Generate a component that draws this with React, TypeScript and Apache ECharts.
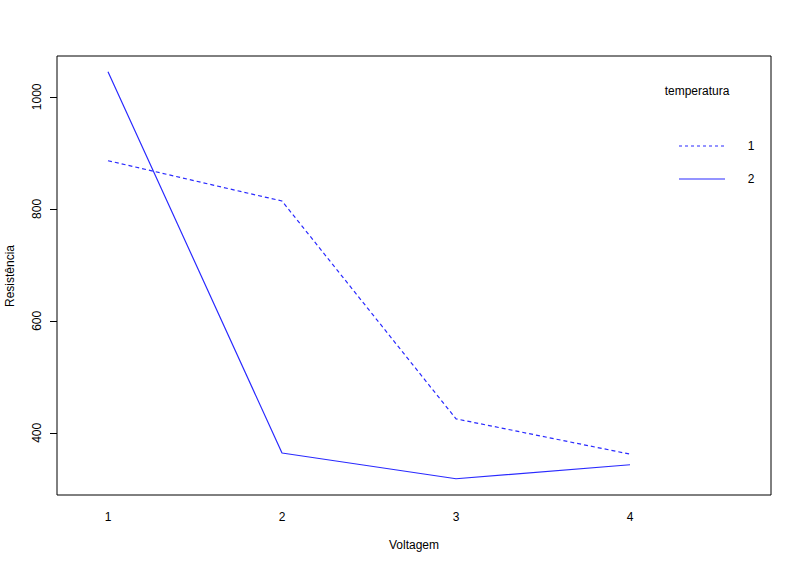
import React, { useEffect, useRef } from "react";
import * as echarts from "echarts";

const voltagem = [1, 2, 3, 4];
const temp1 = [886, 814, 425, 362];
const temp2 = [1045, 364, 318, 343];
const yTicks = [400, 600, 800, 1000];
const legendLabels = ["1", "2"];

export default function App() {
  const ref = useRef<HTMLDivElement>(null);
  useEffect(() => {
    const chart = echarts.init(ref.current!, null, { renderer: "svg" });
    const font = "Liberation Sans, Arial, Helvetica, sans-serif";
    chart.setOption({
      animation: false,
      backgroundColor: "#ffffff",
      textStyle: { fontFamily: font },
      grid: {
        left: 57,
        right: 29,
        top: 56,
        bottom: 71,
        show: true,
        borderColor: "#000",
        borderWidth: 1,
        backgroundColor: "transparent",
      },
      xAxis: {
        type: "value",
        min: 0.707,
        max: 4.81,
        axisLine: { show: false },
        axisTick: { show: false },
        splitLine: { show: false },
        axisLabel: {
          customValues: voltagem,
          formatter: (v: number) => String(v),
          margin: 16,
          color: "#000",
          fontSize: 12,
          fontFamily: font,
        },
      },
      yAxis: {
        type: "value",
        min: 289,
        max: 1073,
        axisLine: { show: false },
        splitLine: { show: false },
        axisTick: {
          show: true,
          customValues: yTicks,
          length: 7,
          lineStyle: { color: "#000" },
        },
        axisLabel: {
          customValues: yTicks,
          formatter: (v: number) => String(v),
          rotate: 90,
          margin: 14,
          color: "#000",
          fontSize: 12,
          fontFamily: font,
        },
      },
      series: [
        {
          type: "line",
          name: "1",
          data: voltagem.map((v, i) => [v, temp1[i]]),
          showSymbol: false,
          symbol: "none",
          lineStyle: { color: "#2a2aff", width: 1.2, type: [4, 3] },
        },
        {
          type: "line",
          name: "2",
          data: voltagem.map((v, i) => [v, temp2[i]]),
          showSymbol: false,
          symbol: "none",
          lineStyle: { color: "#2a2aff", width: 1.2, type: "solid" },
        },
      ],
      graphic: [
        {
          type: "text",
          x: 414,
          y: 545,
          style: {
            text: "Voltagem",
            fontSize: 12,
            fontFamily: font,
            fill: "#000",
            align: "center",
            verticalAlign: "middle",
          },
        },
        {
          type: "text",
          x: 10,
          y: 276,
          rotation: Math.PI / 2,
          style: {
            text: "Resistência",
            fontSize: 12,
            fontFamily: font,
            fill: "#000",
            align: "center",
            verticalAlign: "middle",
          },
        },
        {
          type: "text",
          x: 697,
          y: 91,
          style: {
            text: "temperatura",
            fontSize: 12,
            fontFamily: font,
            fill: "#000",
            align: "center",
            verticalAlign: "middle",
          },
        },
        {
          type: "line",
          shape: { x1: 679, y1: 146, x2: 725, y2: 146 },
          style: { stroke: "#2a2aff", lineWidth: 1.2, lineDash: [3, 3] },
        },
        {
          type: "text",
          x: 751,
          y: 146,
          style: {
            text: legendLabels[0],
            fontSize: 12,
            fontFamily: font,
            fill: "#000",
            align: "center",
            verticalAlign: "middle",
          },
        },
        {
          type: "line",
          shape: { x1: 679, y1: 179, x2: 725, y2: 179 },
          style: { stroke: "#2a2aff", lineWidth: 1.2 },
        },
        {
          type: "text",
          x: 751,
          y: 179,
          style: {
            text: legendLabels[1],
            fontSize: 12,
            fontFamily: font,
            fill: "#000",
            align: "center",
            verticalAlign: "middle",
          },
        },
      ],
    });
    return () => chart.dispose();
  }, []);
  return <div ref={ref} style={{ width: 800, height: 566, position: "absolute", left: 0, top: 0 }} />;
}
